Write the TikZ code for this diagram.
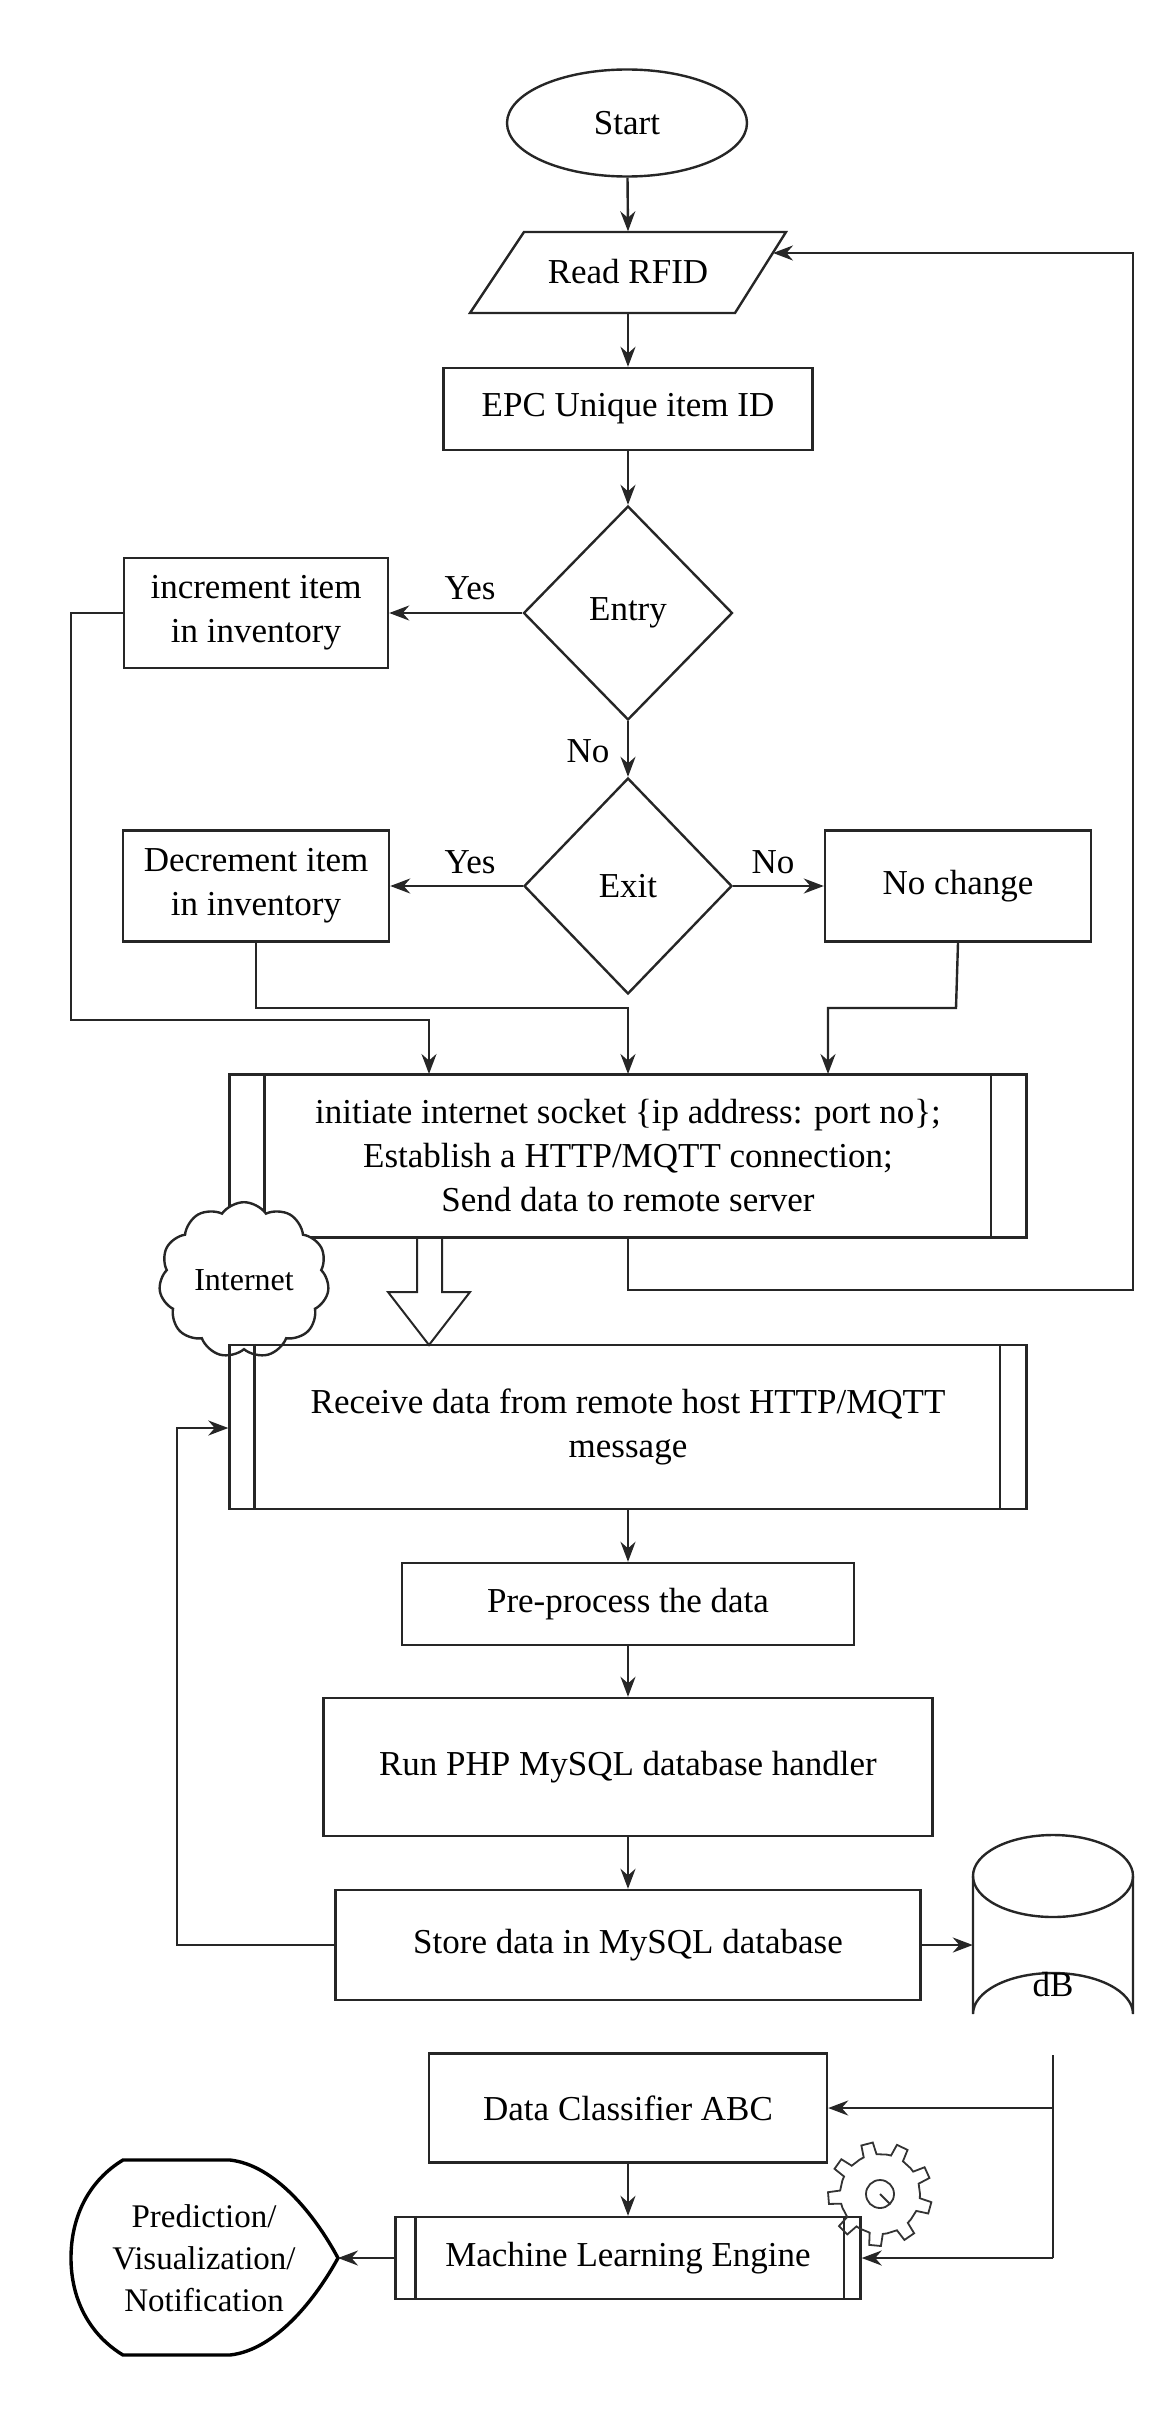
\documentclass[tikz,border=0pt]{standalone}
\usepackage{fontspec}
\setmainfont{Liberation Serif}
\usetikzlibrary{shapes.geometric,shapes.symbols,arrows.meta,calc}
\begin{document}
\begin{tikzpicture}[x=1pt,y=-1pt,
  every node/.style={font=\fontsize{35}{44}\selectfont, inner sep=0pt, align=center},
  ln/.style={line width=2.4pt, draw=black!85},
  arr/.style={ln, -{Stealth[length=20pt,width=15pt]}},
  box/.style={ln, draw, rectangle},
  lbl/.style={font=\fontsize{35}{40}\selectfont}]
\useasboundingbox (0,0) rectangle (1165,2411);
% Start
\node[ln, draw, ellipse, minimum width=240pt, minimum height=107pt] (start) at (627,123) {Start};
% Read RFID
\draw[ln] (470,313) -- (524,232) -- (786,232) -- (735,313) -- cycle;
\node[minimum width=211pt, minimum height=81pt] (rfid) at (628,272) {Read RFID};
\coordinate (rfidR) at (773,253);
% EPC
\node[box, minimum width=369pt, minimum height=82pt] (epc) at (628,409) {EPC Unique item ID};
% Entry
\node[ln, draw, diamond, minimum width=209pt, minimum height=214pt] (entry) at (628,613) {Entry};
\node[box, minimum width=264pt, minimum height=110pt] (inc) at (256,613) {increment item\\in inventory};
% Exit
\node[ln, draw, diamond, minimum width=208pt, minimum height=216pt] (exit) at (628,886) {Exit};
\node[box, minimum width=266pt, minimum height=111pt] (dec) at (256,886) {Decrement item\\in inventory};
\node[box, minimum width=266pt, minimum height=111pt] (noch) at (958,886) {No change};
% socket
\node[box, minimum width=797pt, minimum height=163pt] (sock) at (628,1156)
  {initiate internet socket \{ip address: port no\};\\Establish a HTTP/MQTT connection;\\Send data to remote server};
\draw[ln] ($(sock.north west)+(36,0)$) -- ($(sock.south west)+(36,0)$);
\draw[ln] ($(sock.north east)+(-37,0)$) -- ($(sock.south east)+(-37,0)$);
% cloud
\node[ln, draw, fill=white, cloud, cloud puffs=11, cloud puff arc=110, minimum width=170pt, minimum height=110pt, font=\fontsize{32}{36}\selectfont] (net) at (244,1280) {Internet};
% receive
\node[box, minimum width=797pt, minimum height=164pt] (recv) at (628,1427)
  {Receive data from remote host HTTP/MQTT\\message};
\draw[ln] ($(recv.north west)+(26,0)$) -- ($(recv.south west)+(26,0)$);
\draw[ln] ($(recv.north east)+(-28,0)$) -- ($(recv.south east)+(-28,0)$);
% big hollow arrow
\draw[ln, line width=2pt] (417,1237) -- (417,1292) -- (388,1292) -- (429,1345) -- (470,1292) -- (442,1292) -- (442,1237);
% pre-process etc
\node[box, minimum width=452pt, minimum height=82pt] (pre) at (628,1604) {Pre-process the data};
\node[box, minimum width=609pt, minimum height=138pt] (php) at (628,1767) {Run PHP MySQL database handler};
\node[box, minimum width=585pt, minimum height=110pt] (store) at (628,1945) {Store data in MySQL database};
% dB cylinder
\draw[ln] (973,1876) -- (973,2014) arc[start angle=180, end angle=360, x radius=80, y radius=41] -- (1133,1876);
\draw[ln] (1053,1876) ellipse[x radius=80, y radius=41];
\node[minimum width=160pt, minimum height=220pt] (db) at (1053,1945) {};
\node at (1053,1985) {dB};
% classifier, ML
\node[box, minimum width=398pt, minimum height=109pt] (cls) at (628,2108) {Data Classifier ABC};
\node[box, minimum width=465pt, minimum height=82pt] (ml) at (628,2258) {Machine Learning Engine};
\draw[ln] ($(ml.north west)+(21,0)$) -- ($(ml.south west)+(21,0)$);
\draw[ln] ($(ml.north east)+(-18,0)$) -- ($(ml.south east)+(-18,0)$);
% output shape
\draw[line width=3.4pt] (123,2160) -- (230,2160) .. controls (275,2165) and (315,2215) .. (338,2258)
  .. controls (315,2300) and (275,2350) .. (230,2355) -- (123,2355)
  .. controls (90,2335) and (71,2300) .. (71,2258) .. controls (71,2215) and (90,2180) .. (123,2160) -- cycle;
\node[minimum width=267pt, minimum height=195pt, font=\fontsize{33}{42}\selectfont] (out) at (204,2258) {Prediction/\\Visualization/\\Notification};
\coordinate (outR) at (338,2258);
% gear
\begin{scope}[shift={(880,2194)}]
\draw[line width=1.8pt, draw=black!80] (0:40)
 \foreach \a in {0,40,...,320} { -- (\a+6:40) -- (\a+9:52) -- (\a+22:52) -- (\a+25:40) -- (\a+40:40)} -- cycle;
\draw[line width=1.8pt, draw=black!80] (0,0) circle (14);
\draw[line width=1.8pt, draw=black!80] (0,0) -- (10,10);
\end{scope}
% labels
\node[lbl] at (470,588) {Yes};
\node[lbl] at (588,751) {No};
\node[lbl] at (470,862) {Yes};
\node[lbl] at (773,862) {No};
% connectors
\draw[arr] (start) -- (rfid.north);
\draw[arr] (rfid.south) -- (epc);
\draw[arr] (epc) -- (entry);
\draw[arr] (entry) -- (inc);
\draw[arr] (entry) -- (exit);
\draw[arr] (exit) -- (dec);
\draw[arr] (exit) -- (noch);
\draw[arr] (inc.west) -- (71,613) -- (71,1020) -- (429,1020) -- (429,1074);
\draw[arr] (dec.south) -- (256,1008) -- (628,1008) -- (628,1074);
\draw[arr] (noch.south) -- (956,1008) -- (828,1008) -- (828,1074);
\draw[arr] (sock.south) -- (628,1290) -- (1133,1290) -- (1133,253) -- (rfidR);
\draw[arr] (recv) -- (pre);
\draw[arr] (pre) -- (php);
\draw[arr] (php) -- (store);
\draw[arr] (store.west) -- (177,1945) -- (177,1428) -- (recv.west |- 0,1428);
\draw[arr] (store.east) -- (db.west);
\draw[ln] (db.south) -- (1053,2258);
\draw[arr] (1053,2108) -- (cls.east);
\draw[arr] (1053,2258) -- (ml.east);
\draw[arr] (cls) -- (ml);
\draw[arr] (ml.west) -- (outR);
\end{tikzpicture}
\end{document}
